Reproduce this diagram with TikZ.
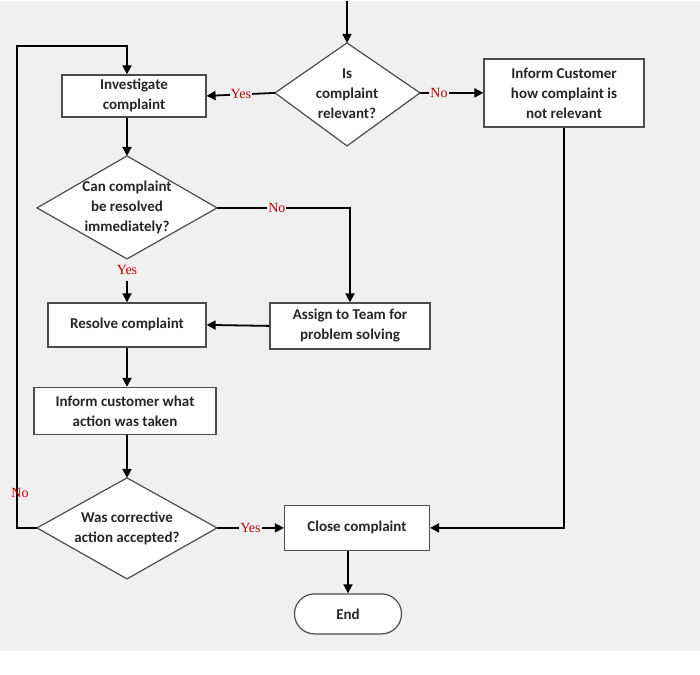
\documentclass[tikz,border=0pt]{standalone}
\usepackage{fontspec}
\setmainfont{Carlito}
\newfontfamily\lab{Liberation Serif}
\usetikzlibrary{shapes.geometric,arrows.meta}
\begin{document}
\begin{tikzpicture}[x=1pt,y=-1pt,
 box/.style={draw=black!70,line width=1.2pt,fill=white,align=center,inner sep=0pt,font=\bfseries\fontsize{15}{20}\selectfont,text=black!85},
 txt/.style={align=center,inner sep=0pt,font=\bfseries\fontsize{15}{20}\selectfont,text=black!85},
 dd/.style={draw=black!70,line width=1.2pt,fill=white},
 ln/.style={line width=1.8pt,black},
 ar/.style={ln,-{Triangle[length=9pt,width=9pt]}},
 lb/.style={font=\lab\fontsize{14}{16}\selectfont,text=red!75!black,fill=black!6,inner sep=1pt}]
\fill[black!6] (0,0) rectangle (700,674);
\fill[white] (0,650) rectangle (700,674);
\coordinate (top) at (347,0);
% diamonds
\draw[dd] (275,92) -- (347,42) -- (420,92) -- (347,145) -- cycle;
\node[txt] (d1) at (347,93) {Is\\complaint\\relevant?};
\coordinate (d1n) at (347,42); \coordinate (d1w) at (275,92); \coordinate (d1e) at (420,92);
\draw[dd] (37,207) -- (127,155) -- (217,207) -- (127,258) -- cycle;
\node[txt] (d2) at (127,207) {Can complaint\\be resolved\\immediately?};
\coordinate (d2n) at (127,155); \coordinate (d2e) at (217,207);
\draw[dd] (37,527) -- (127,477) -- (217,527) -- (127,578) -- cycle;
\node[txt] (d3) at (127,527) {Was corrective\\action accepted?};
\coordinate (d3n) at (127,477); \coordinate (d3e) at (217,527); \coordinate (d3w) at (37,527);
\node[box,minimum width=144pt,minimum height=42pt] (inv) at (134,95) {Investigate\\complaint};
\node[box,minimum width=160pt,minimum height=68pt] (ic) at (564,92) {Inform Customer\\how complaint is\\not relevant};
\node[box,minimum width=158pt,minimum height=44pt] (res) at (127,324) {Resolve complaint};
\node[box,minimum width=160pt,minimum height=46pt] (asg) at (350,325) {Assign to Team for\\problem solving};
\node[box,minimum width=182pt,minimum height=47pt] (inf) at (125,410) {Inform customer what\\action was taken};
\node[box,minimum width=145pt,minimum height=45pt] (cl) at (357,527) {Close complaint};
\node[box,rounded corners=20pt,minimum width=107pt,minimum height=40pt] (end) at (348,613) {End};
\coordinate (yes2) at (127,280);
\draw[ar] (top) -- (d1n);
\draw[ar] (d1w) -- (inv.east) node[lb,midway] {Yes};
\draw[ar] (d1e) -- (ic.west) node[lb,pos=0.3] {No};
\draw[ar] (inv.south -| d2n) -- (d2n);
\draw[ar] (d2e) -- (350,207) node[lb,pos=0.45] {No} -- (asg.north);
\node[lb,fill=none] (y2l) at (127,269) {Yes};
\draw[ar] (yes2) -- (res.north);
\draw[ar] (asg.west) -- (res.east);
\draw[ar] (res.south) -- (res.south |- inf.north);
\draw[ar] (inf.south -| d3n) -- (d3n);
\draw[ar] (d3e) -- (cl.west) node[lb,midway] {Yes};
\draw[ar] (ic.south) -- (ic.south |- cl.east) -- (cl.east);
\draw[ar] (cl.south -| end.north) -- (end.north);
\draw[ar] (d3w) -- (17,527) -- (17,45) -- (127,45) -- (inv.north -| 127,0);
\node[lb,fill=none] at (20,492) {No};
\end{tikzpicture}
\end{document}
